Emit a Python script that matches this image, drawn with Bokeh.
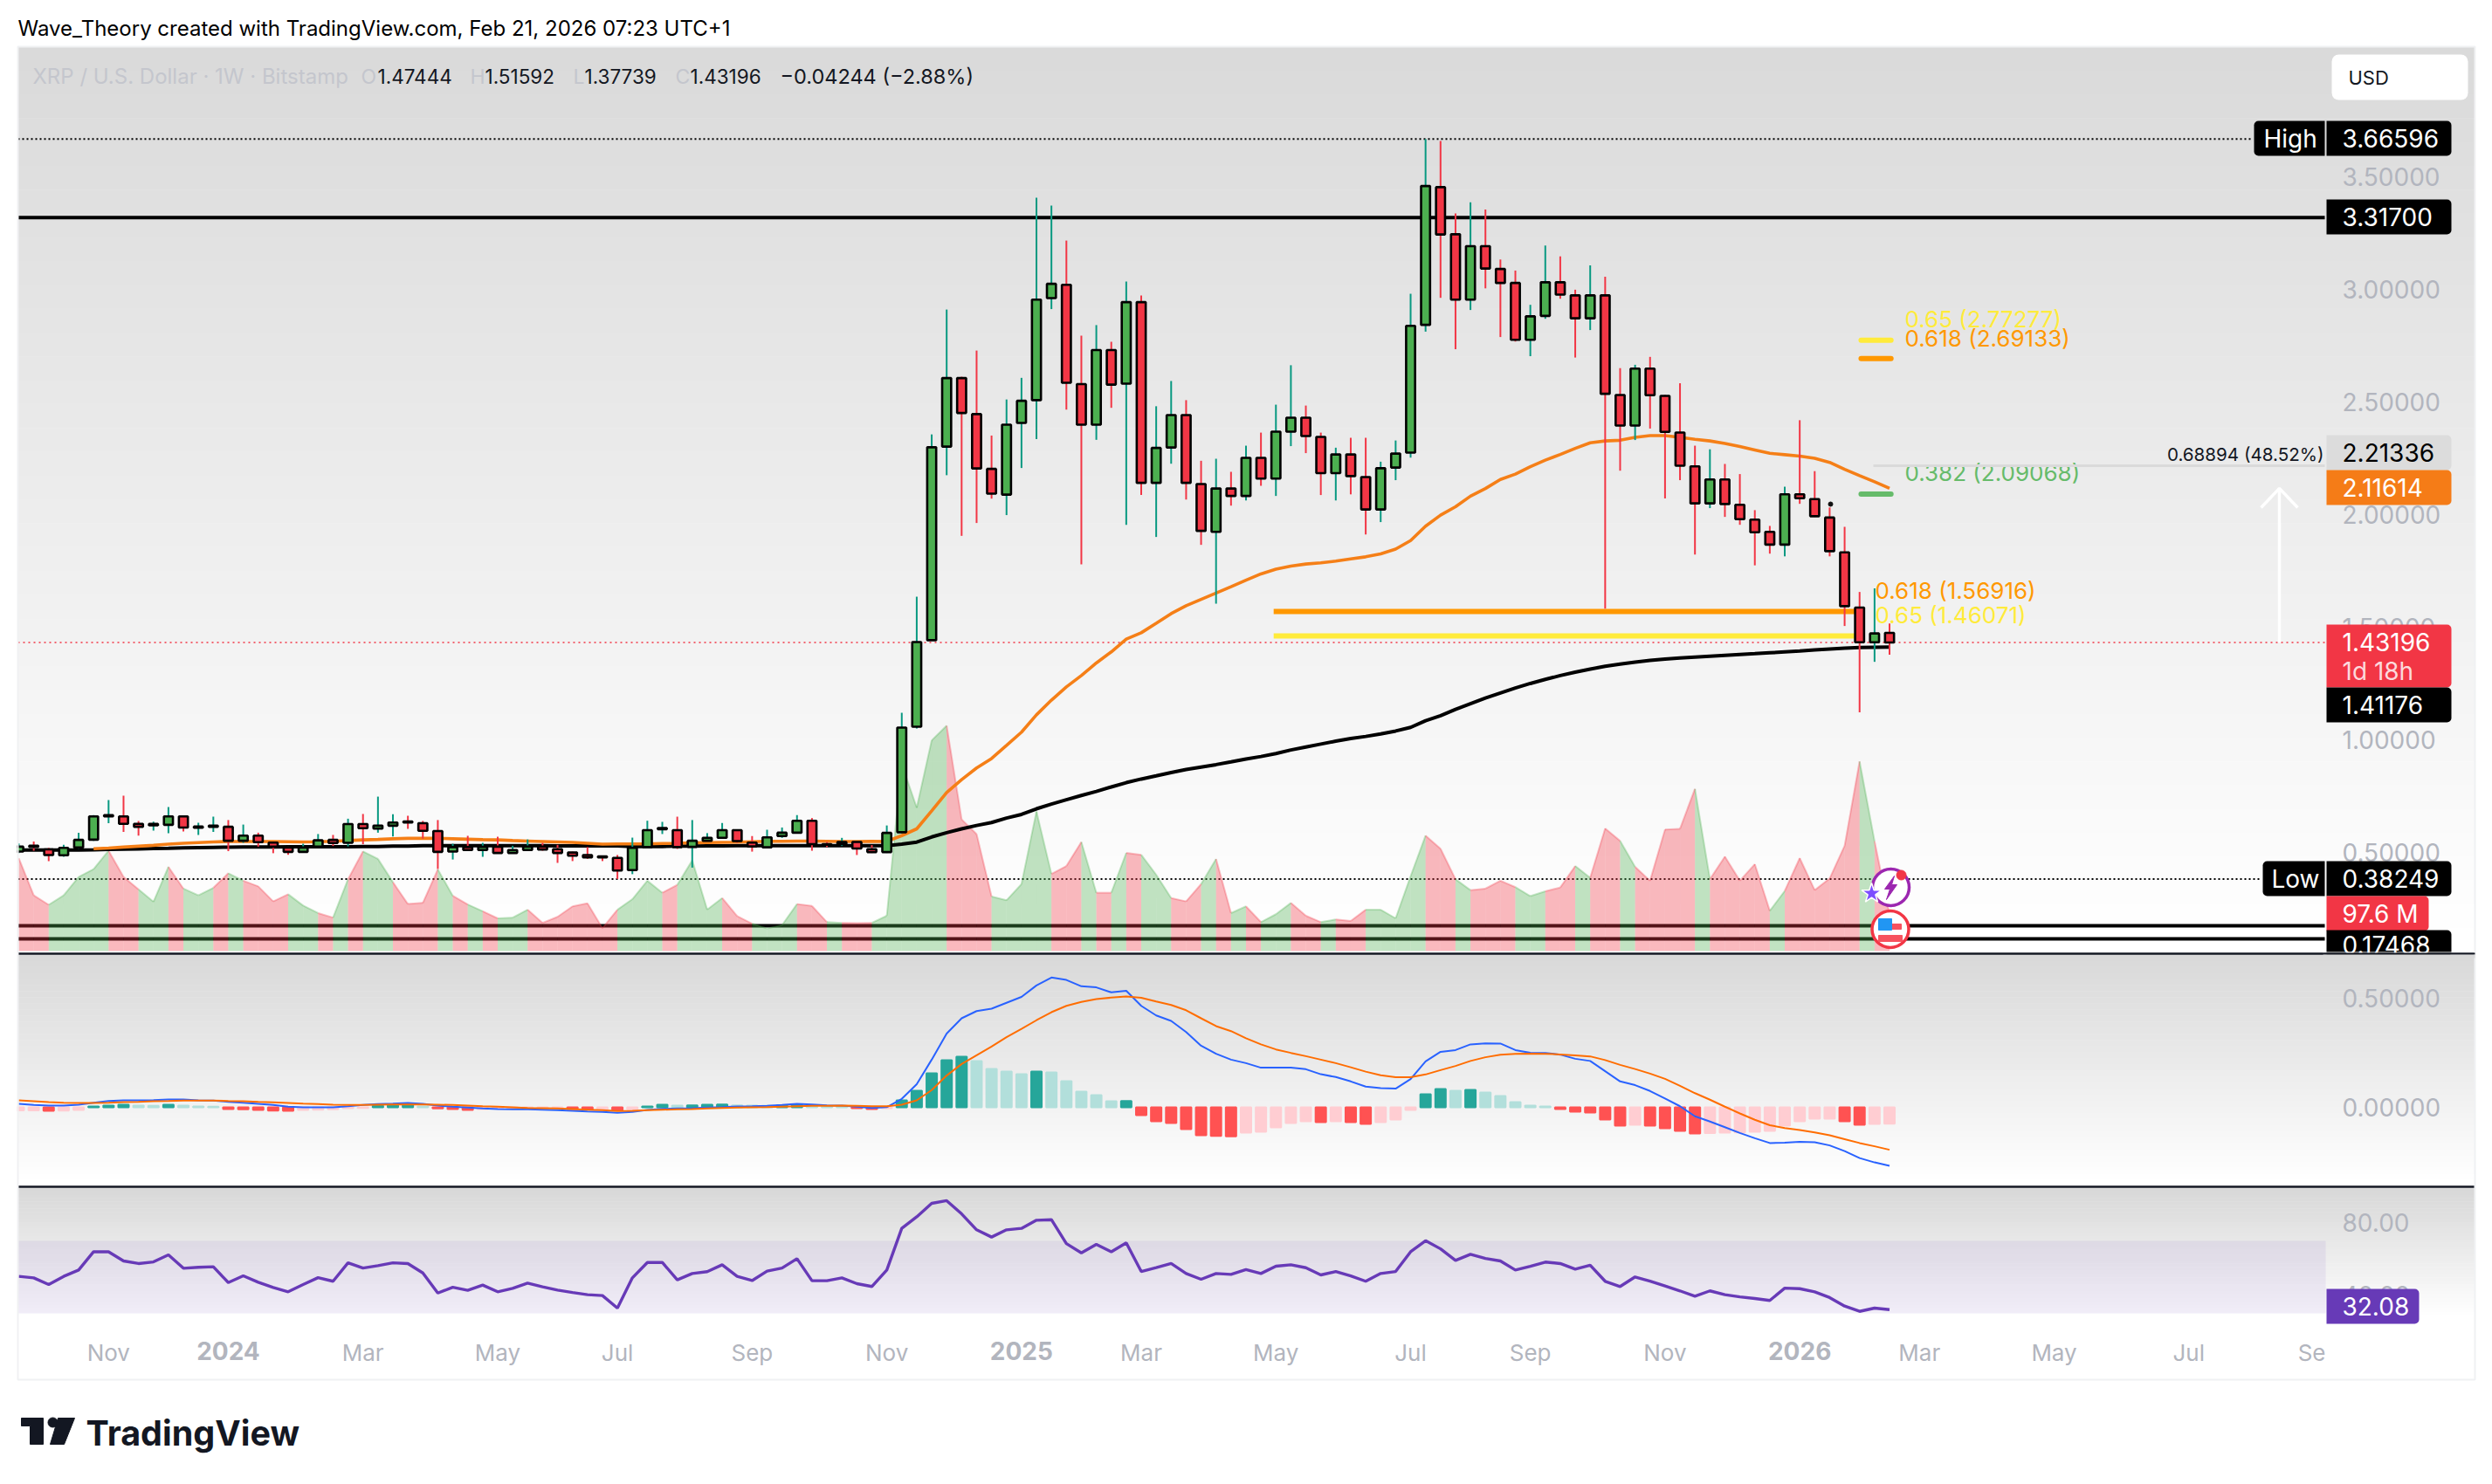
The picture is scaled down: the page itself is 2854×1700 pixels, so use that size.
from bokeh.embed import file_html
from bokeh.resources import INLINE
from bokeh.plotting import figure, ColumnDataSource
from bokeh.models import (Range1d, LinearAxis, FixedTicker, PrintfTickFormatter, Label,
                          BoxAnnotation)

OPEN = [.504,.530,.514,.488,.522,.557,.660,.660,.627,.621,.623,.660,.610,.614,.614,.552,.575,.544,.522,.503,
        .526,.556,.543,.626,.606,.619,.638,.630,.595,.504,.524,.511,.526,.498,.511,.526,.515,.500,.489,.483,
        .476,.422,.524,.603,.599,.525,.552,.565,.599,.544,.523,.573,.588,.641,.537,.537,.547,.515,.502,.590,
        1.058,1.442,2.301,2.605,2.445,2.202,2.088,2.406,2.507,2.960,3.019,2.578,2.398,2.729,2.580,2.942,2.140,2.297,2.441,2.135,
        1.923,2.115,2.082,2.251,2.159,2.367,2.429,2.344,2.183,2.266,2.166,2.022,2.208,2.274,2.841,3.452,3.243,2.953,3.190,3.089,
        3.027,2.775,2.881,3.030,2.972,2.870,2.972,2.530,2.394,2.647,2.526,2.363,2.213,2.049,2.155,2.043,1.977,1.923,1.866,2.089,
        2.068,1.986,1.832,1.587,1.433,1.47444]
HIGH = [.540,.549,.521,.534,.588,.666,.733,.752,.640,.637,.702,.660,.632,.659,.644,.624,.588,.545,.526,.539,
        .582,.578,.650,.671,.748,.670,.663,.640,.644,.539,.574,.543,.570,.530,.558,.543,.534,.504,.524,.485,
        .489,.566,.641,.636,.659,.644,.586,.631,.601,.573,.601,.611,.666,.653,.547,.565,.549,.533,.620,1.12,
        1.635,2.355,2.909,2.611,2.727,2.350,2.510,2.606,3.405,3.370,3.215,2.793,2.840,2.766,3.033,2.971,2.480,2.592,2.507,2.238,
        2.247,2.189,2.305,2.363,2.487,2.662,2.483,2.363,2.296,2.340,2.340,2.234,2.328,2.979,3.66596,3.657,3.335,3.385,3.353,3.131,
        3.082,2.930,3.193,3.145,2.997,3.105,3.055,2.649,2.664,2.699,2.530,2.582,2.305,2.289,2.224,2.179,2.019,1.949,2.123,2.418,
        2.192,2.031,1.945,1.656,1.672,1.51592]
LOW = [.497,.508,.462,.481,.517,.552,.630,.591,.575,.597,.586,.593,.578,.591,.506,.543,.526,.497,.490,.500,
       .524,.529,.527,.537,.588,.571,.605,.562,.427,.469,.508,.481,.498,.495,.507,.508,.454,.462,.472,.462,
       .38249,.404,.521,.582,.516,.433,.550,.562,.543,.504,.521,.565,.586,.508,.524,.529,.489,.498,.498,.585,
       1.050,1.440,2.174,1.905,1.962,2.070,1.997,2.206,2.334,2.911,2.465,1.778,2.331,2.473,1.954,2.086,1.900,2.225,2.066,1.865,
       1.604,2.039,2.062,2.127,2.082,2.303,2.272,2.086,2.062,2.089,1.911,1.966,2.152,2.252,2.811,2.961,2.733,2.907,3.003,2.787,
       2.767,2.702,2.868,2.957,2.696,2.818,1.582,2.194,2.330,2.381,2.071,2.152,1.822,2.028,1.989,1.954,1.774,1.826,1.814,2.047,
       1.989,1.814,1.505,1.122,1.346,1.37739]
CLOSE = [.526,.525,.489,.521,.556,.660,.666,.627,.614,.627,.660,.611,.615,.619,.552,.575,.546,.526,.503,.522,
         .554,.542,.626,.608,.619,.633,.633,.596,.503,.524,.511,.525,.498,.511,.526,.513,.498,.486,.478,.478,
         .420,.521,.599,.609,.524,.552,.565,.599,.551,.527,.567,.588,.641,.537,.534,.547,.518,.502,.587,1.054,
         1.434,2.298,2.605,2.450,2.204,2.092,2.398,2.504,2.953,3.023,2.584,2.398,2.729,2.576,2.942,2.140,2.295,2.441,2.140,1.927,
         2.115,2.082,2.251,2.159,2.367,2.429,2.348,2.183,2.266,2.170,2.022,2.205,2.270,2.837,3.457,3.242,2.953,3.190,3.091,3.027,
         2.775,2.879,3.030,2.975,2.870,2.972,2.535,2.394,2.647,2.529,2.366,2.216,2.049,2.155,2.046,1.979,1.921,1.866,2.089,2.072,
         1.992,1.837,1.593,1.433,1.472,1.43196]

EMA50_FIRST_BAR = 5
EMA50 = [.517,.520,.524,.528,.532,.537,.541,.544,.547,.549,.549,.549,.549,.548,.547,.548,.550,.553,.556,.558,
         .561,.563,.563,.563,.561,.559,.557,.556,.553,.551,.549,.547,.545,.541,.537,.538,.538,.538,.540,.541,
         .543,.544,.545,.546,.548,.550,.550,.551,.551,.550,.549,.549,.550,.549,.575,.605,.685,.766,.823,.875,
         .917,.975,1.034,1.111,1.176,1.235,1.285,1.341,1.390,1.447,1.475,1.517,1.560,1.595,1.623,1.651,1.679,1.708,1.736,1.757,
         1.771,1.780,1.785,1.793,1.803,1.812,1.825,1.846,1.884,1.948,1.997,2.034,2.081,2.115,2.155,2.179,2.212,2.241,2.266,2.293,
         2.318,2.326,2.329,2.342,2.350,2.350,2.342,2.333,2.326,2.315,2.301,2.286,2.271,2.265,2.259,2.249,2.231,2.200,2.172,2.145,
         2.11614]
EMA200 = [.511,.511,.511,.511,.511,.512,.514,.515,.516,.518,.519,.521,.522,.523,.524,.525,.525,.525,.526,.526,
          .526,.526,.526,.527,.527,.528,.528,.530,.530,.530,.530,.530,.530,.530,.530,.530,.529,.529,.529,.529,
          .529,.527,.527,.527,.528,.528,.529,.529,.530,.530,.530,.530,.530,.530,.530,.530,.530,.530,.530,.537,
          .546,.569,.588,.605,.620,.633,.653,.669,.694,.715,.734,.753,.771,.791,.810,.826,.840,.855,.868,.879,
          .890,.902,.915,.926,.939,.955,.968,.981,.994,1.006,1.015,1.026,1.039,1.055,1.085,1.107,1.135,1.160,1.185,1.208,
          1.230,1.250,1.268,1.285,1.300,1.314,1.326,1.336,1.345,1.352,1.358,1.363,1.367,1.371,1.375,1.379,1.382,1.386,1.390,1.394,
          1.399,1.403,1.407,1.410,1.411,1.41176]
VOLUME_M = [247,148,123,148,197,218,267,197,164,131,224,166,148,168,207,187,172,132,151,121,
            101,89,191,265,245,183,125,128,217,147,124,106,87,89,110,75,91,119,127,61,
            110,138,187,155,176,241,110,141,93,73,60,69,125,120,77,75,74,75,94,497,
            381,560,599,350,311,145,135,178,371,205,226,290,155,155,261,256,203,141,132,178,
            245,101,119,77,98,128,94,77,84,80,110,110,87,199,307,272,191,162,166,187,
            170,146,159,169,226,195,326,293,224,187,323,325,431,191,251,187,231,107,160,247,
            162,193,280,504,292,97.6]
MACD_HIST = [-.014,-.014,-.016,-.015,-.012,.004,.008,.012,.008,.007,.012,.008,.004,.003,-.008,-.009,-.012,-.015,-.016,-.012,
             -.011,-.009,-.004,-.003,.008,.009,.012,.004,-.005,-.008,-.012,-.008,-.005,-.004,-.004,-.004,-.003,-.008,-.009,-.008,
             -.012,-.009,.004,.012,.008,.009,.012,.013,.009,.008,.007,.009,.012,.005,.004,.003,-.004,-.008,-.004,.032,
             .076,.156,.217,.233,.213,.176,.164,.152,.164,.160,.120,.072,.056,.028,.029,-.036,-.064,-.072,-.100,-.128,
             -.131,-.133,-.116,-.112,-.092,-.072,-.064,-.068,-.064,-.068,-.076,-.068,-.056,-.012,.060,.084,.076,.080,.068,.052,
             .024,.008,.004,-.008,-.020,-.024,-.056,-.084,-.080,-.084,-.096,-.108,-.120,-.118,-.116,-.115,-.112,-.108,-.084,-.064,
             -.052,-.052,-.064,-.080,-.076,-.075]
MACD_LINE = [.016,.011,.008,.008,.012,.021,.029,.032,.032,.033,.036,.036,.032,.031,.025,.021,.016,.011,.003,0,
             0,0,.005,.011,.015,.017,.020,.016,.008,.003,-.001,-.005,-.008,-.009,-.009,-.011,-.013,-.016,-.019,-.021,
             -.025,-.021,-.012,-.007,-.005,-.004,-.001,.001,.004,.005,.007,.011,.016,.013,.009,.008,.003,-.003,.001,.039,
             .106,.219,.339,.409,.442,.453,.480,.507,.560,.596,.585,.556,.551,.528,.535,.466,.422,.397,.346,.283,
             .246,.219,.203,.182,.182,.182,.175,.152,.139,.119,.095,.088,.086,.130,.211,.255,.263,.289,.294,.293,
             .263,.251,.250,.242,.223,.213,.166,.119,.102,.075,.041,.005,-.041,-.065,-.091,-.118,-.142,-.164,-.162,-.158,
             -.160,-.175,-.201,-.233,-.253,-.269]
MACD_SIGNAL = [.032,.028,.024,.021,.020,.020,.021,.024,.025,.028,.029,.031,.031,.031,.029,.028,.025,.023,.020,.017,
               .015,.012,.011,.011,.012,.013,.013,.013,.012,.011,.008,.005,.003,0,-.003,-.004,-.005,-.008,-.011,-.013,
               -.017,-.016,-.013,-.011,-.009,-.008,-.005,-.003,-.001,0,.001,.003,.005,.007,.007,.008,.007,.005,.005,.012,
               .032,.079,.146,.199,.239,.279,.322,.360,.400,.437,.466,.484,.497,.504,.509,.503,.486,.470,.446,.409,
               .373,.350,.317,.289,.266,.250,.235,.219,.203,.184,.164,.147,.138,.138,.151,.171,.190,.213,.230,.242,
               .246,.247,.246,.243,.239,.234,.217,.195,.176,.155,.131,.099,.065,.035,.003,-.028,-.057,-.082,-.095,-.104,
               -.115,-.128,-.146,-.164,-.179,-.195]
RSI = [50.4,49.6,45.9,50.4,53.9,64.0,64.0,58.9,57.5,58.4,62.3,54.9,55.4,55.7,47.0,50.7,47.2,44.3,41.9,45.9,
       49.7,47.7,57.9,55.0,56.3,57.9,57.5,52.3,41.2,44.4,42.7,45.6,41.9,43.8,46.7,44.6,42.8,41.5,40.3,39.8,
       32.9,49.6,58.1,58.1,48.5,52.0,53.0,56.8,50.4,48.1,53.3,55.0,60.2,48.0,48.0,49.6,46.4,44.8,53.9,76.9,
       83.3,90.7,92.2,84.9,76.1,72.1,76.1,76.9,81.4,81.7,68.5,63.4,68.1,64.0,68.9,53.1,55.2,57.5,52.0,48.8,
       52.0,51.5,54.2,52.0,56.0,56.8,55.2,51.2,53.1,50.7,47.7,52.0,53.1,64.0,70.1,65.6,59.2,62.6,60.3,58.9,
       53.9,56.0,58.3,57.5,54.4,56.6,47.7,44.8,50.1,47.8,45.1,42.4,39.5,42.4,40.3,39.1,38.2,37.1,43.9,43.6,
       41.9,38.7,34.0,31.1,32.9,32.08]

for arr in (OPEN, HIGH, LOW, CLOSE, EMA200, VOLUME_M, MACD_HIST, MACD_LINE, MACD_SIGNAL, RSI):
    assert len(arr) == 126, len(arr)
assert len(EMA50) == 121, len(EMA50)

PRICE_TICKS = [0.5, 1.0, 1.5, 2.0, 2.5, 3.0, 3.5]
MACD_TICKS = [0.0, 0.5]
RSI_TICKS = [40, 80]
MONTH_BARS = [6, 23, 32, 40, 49, 58, 75, 84, 93, 101, 110, 127, 136, 145]
MONTH_NAMES = ["Nov", "Mar", "May", "Jul", "Sep", "Nov", "Mar", "May", "Jul", "Sep", "Nov", "Mar", "May", "Jul"]
YEAR_BARS = [14, 67, 119]
YEAR_NAMES = ["2024", "2025", "2026"]

RESISTANCE = 3.317
ATH = 3.66596
ATL = 0.38249
LAST = 1.43196
SUPPORT_A = 0.17468
SUPPORT_B = 0.117
FIB_LOW_618 = 1.56916
FIB_LOW_65 = 1.46071
FIB_HIGH_65 = 2.77277
FIB_HIGH_618 = 2.69133
FIB_382 = 2.09068
TARGET = 2.21336

FONT = "Inter"
W, H = 2838, 1684
PAGE_L, PAGE_T = 0, 0
BAR0_PX, BAR_PX = 21.0, 17.14


def pane(ref_value, ref_y, px_per_unit):
    top = ref_value + (ref_y - PAGE_T) / px_per_unit
    bottom = ref_value - (PAGE_T + H - ref_y) / px_per_unit
    return Range1d(bottom, top)


p = figure(width=W, height=H, output_backend="svg", toolbar_location=None,
           x_axis_location=None, y_axis_location=None,
           x_range=Range1d((PAGE_L - BAR0_PX) / BAR_PX, (PAGE_L + W - BAR0_PX) / BAR_PX),
           y_range=pane(1.0, 847, 258.2),
           min_border=0, min_border_left=0, min_border_right=0, min_border_top=0, min_border_bottom=0,
           background_fill_color="white", border_fill_color="white", outline_line_color=None)
p.grid.visible = False
p.extra_x_ranges["page"] = Range1d(PAGE_L, PAGE_L + W)
p.extra_y_ranges["page"] = Range1d(PAGE_T + H, PAGE_T)
p.extra_y_ranges["vol"] = pane(0.0, 1089, 1 / 2.32)
p.extra_y_ranges["macd"] = pane(0.0, 1268, 249.4)
p.extra_y_ranges["rsi"] = pane(70.0, 1421, 2.075)
PG = dict(x_range_name="page", y_range_name="page")

LEFT, RIGHT, SCALE_L = 20, 2834, 2663


def dashed(renderer, pattern=(2, 3)):
    renderer.glyph.line_dash = list(pattern)


def gradient(y0, y1, g0=217, n=38):
    l, r, t, b, c = [], [], [], [], []
    for k in range(n):
        l.append(LEFT); r.append(RIGHT)
        t.append(y0 + (y1 - y0) * k / n); b.append(y0 + (y1 - y0) * (k + 1) / n + 0.5)
        g = int(round(g0 + (255 - g0) * k / (n - 1)))
        c.append("#%02x%02x%02x" % (g, g, g))
    p.quad(left=l, right=r, top=t, bottom=b, fill_color=c, line_color=None, **PG)


gradient(53, 1090, 218)
gradient(1093, 1358, 217)
gradient(1360, 1510, 216)
# RSI band
p.quad(left=[LEFT], right=[SCALE_L], top=[70], bottom=[30], fill_color="#7e57c2", fill_alpha=0.1, line_color=None,
       x_range_name="page", y_range_name="rsi")
p.segment(x0=[LEFT, LEFT], x1=[RIGHT, RIGHT], y0=[1092, 1359], y1=[1092, 1359], line_color="#131722", line_width=2.5, **PG)

xs_all = list(range(126))
right_bar = (SCALE_L - 1 - BAR0_PX) / BAR_PX
left_bar = (LEFT - BAR0_PX) / BAR_PX

# levels
p.segment(x0=[left_bar], x1=[right_bar], y0=[RESISTANCE], y1=[RESISTANCE], line_color="black", line_width=4)
p.segment(x0=[left_bar, left_bar], x1=[right_bar, right_bar], y0=[SUPPORT_A, SUPPORT_B], y1=[SUPPORT_A, SUPPORT_B],
          line_color="black", line_width=4)
dashed(p.segment(x0=[left_bar], x1=[(2580 - BAR0_PX) / BAR_PX], y0=[ATH], y1=[ATH], line_color="black", line_width=2))
dashed(p.segment(x0=[left_bar], x1=[(2590 - BAR0_PX) / BAR_PX], y0=[ATL], y1=[ATL], line_color="black", line_width=2))

# volume area
vx, vy, vc, lx, ly = [], [], [], [], []
for i in range(1, 126):
    vx.append([i - 1, i, i, i - 1]); vy.append([VOLUME_M[i - 1], VOLUME_M[i], 0, 0])
    vc.append("#f23645" if CLOSE[i] < OPEN[i] else "#4caf50")
    lx.append([i - 1, i]); ly.append([VOLUME_M[i - 1], VOLUME_M[i]])
vsrc = ColumnDataSource(dict(xs=vx, ys=vy, c=vc, lx=lx, ly=ly))
p.patches("xs", "ys", source=vsrc, fill_color="c", fill_alpha=0.35, line_color=None, y_range_name="vol")
p.multi_line("lx", "ly", source=vsrc, line_color="c", line_alpha=0.3, line_width=2, y_range_name="vol")

# last price line (dotted)
dashed(p.segment(x0=[left_bar], x1=[right_bar], y0=[LAST], y1=[LAST], line_color="#f23645", line_width=1.6), (2, 4))

# fib zones
p.segment(x0=[83.85], x1=[123], y0=[FIB_LOW_618], y1=[FIB_LOW_618], line_color="#ff9800", line_width=6)
p.segment(x0=[83.85], x1=[123], y0=[FIB_LOW_65], y1=[FIB_LOW_65], line_color="#ffeb3b", line_width=6)
p.segment(x0=[123.1], x1=[125.1], y0=[FIB_HIGH_65], y1=[FIB_HIGH_65], line_color="#ffeb3b", line_width=6, line_cap="round")
p.segment(x0=[123.1], x1=[125.1], y0=[FIB_HIGH_618], y1=[FIB_HIGH_618], line_color="#ff9800", line_width=6, line_cap="round")
p.segment(x0=[123.1], x1=[125.1], y0=[FIB_382], y1=[FIB_382], line_color="#66bb6a", line_width=6, line_cap="round")

# moving averages
p.line(xs_all, EMA200, line_color="black", line_width=4)
p.line(list(range(EMA50_FIRST_BAR, 126)), EMA50, line_color="#f57f17", line_width=3.6)

# candles
UP = [c >= o for o, c in zip(OPEN, CLOSE)]
wick_c = ["#089981" if u else "#f23645" for u in UP]
body_c = ["#4caf50" if u else "#f23645" for u in UP]
p.segment(x0=xs_all, x1=xs_all, y0=LOW, y1=HIGH, line_color=wick_c, line_width=2)
p.vbar(x=xs_all, width=0.6, top=[max(o, c) for o, c in zip(OPEN, CLOSE)], bottom=[min(o, c) for o, c in zip(OPEN, CLOSE)],
       fill_color=body_c, line_color="black", line_width=2.6)
# dot above the wick
p.scatter([2096], [577], size=5, color="#111111", **PG)

# measure
p.segment(x0=[151.05], x1=[151.05], y0=[LAST], y1=[2.113], line_color="white", line_width=3.5)
p.line([2589, 2610, 2631], [581, 559, 581], line_color="white", line_width=3.5, **PG)

# MACD
hist_c = []
for i, h in enumerate(MACD_HIST):
    prev = MACD_HIST[i - 1] if i else h
    if h >= 0:
        hist_c.append("#26a69a" if h >= prev else "#b2dfdb")
    else:
        hist_c.append("#ff5252" if h < prev else "#ffcdd2")
p.vbar(x=xs_all, width=0.7, top=MACD_HIST, bottom=0, fill_color=hist_c, line_color=hist_c, line_width=2, y_range_name="macd")
p.line(xs_all, MACD_LINE, line_color="#2962ff", line_width=2, y_range_name="macd")
p.line(xs_all, MACD_SIGNAL, line_color="#ff6d00", line_width=2, y_range_name="macd")

# RSI
p.line(xs_all, RSI, line_color="#673ab7", line_width=3.4, y_range_name="rsi")

# panes clip what reaches past their left edge
p.quad(left=[0], right=[LEFT - 1], top=[53], bottom=[1580], fill_color="white", line_color=None, **PG)
# frame
p.quad(left=[LEFT], right=[RIGHT], top=[53], bottom=[1580], fill_color=None, line_color="#f0f1f3", line_width=2, **PG)


# value axes drawn inside the frame
def y_axis(ticks, fmt, rng=None):
    kw = dict(y_range_name=rng) if rng else {}
    ax = LinearAxis(ticker=FixedTicker(ticks=ticks), formatter=PrintfTickFormatter(format=fmt),
                    fixed_location=(2682 - BAR0_PX) / BAR_PX, axis_line_color=None,
                    major_tick_line_color=None, minor_tick_line_color=None, major_tick_out=0, major_tick_in=0,
                    major_label_standoff=0, major_label_text_color="#b2b5be", major_label_text_font=FONT,
                    major_label_text_font_size="28px", **kw)
    p.add_layout(ax, "right")


y_axis(PRICE_TICKS, "%.5f")
y_axis(MACD_TICKS, "%.5f", "macd")
y_axis(RSI_TICKS, "%.2f", "rsi")


def x_axis(ticks, names, style, size, y_px):
    ax = LinearAxis(ticker=FixedTicker(ticks=ticks), major_label_overrides=dict(zip(ticks, names)),
                    fixed_location=1 + (847 - y_px) / 258.2, axis_line_color=None,
                    major_tick_line_color=None, minor_tick_line_color=None, major_tick_out=0, major_tick_in=0,
                    major_label_standoff=0, major_label_text_color="#b2b5be", major_label_text_font=FONT,
                    major_label_text_font_size=size, major_label_text_font_style=style)
    p.add_layout(ax, "below")


x_axis(MONTH_BARS, MONTH_NAMES, "normal", "26px", 1533)
x_axis(YEAR_BARS, YEAR_NAMES, "bold", "28px", 1536)


def text(x, y, s, color="black", size=28, align="left", style="normal", font=FONT, level="annotation"):
    p.add_layout(Label(x=x, y=y, text=s, text_color=color, text_font=font, text_font_size=f"{size}px",
                       text_align=align, text_baseline="middle", text_font_style=style, level=level, **PG))


def box(l, r, t, b, color, radius=(0, 5, 5, 0), level="annotation"):
    p.add_layout(BoxAnnotation(left=l, right=r, top=t, bottom=b, fill_color=color, fill_alpha=1, line_color=None,
                               line_alpha=0, border_radius=radius, level=level, **PG))


def tag(t, b, s, color="black", tcolor="white", r=2807):
    box(2664, r, t, b, color)
    text(2682, (t + b) / 2, s, tcolor)


box(2581, 2662, 138, 178, "black", (5, 0, 0, 5))
text(2592, 158, "High", "white")
tag(138, 178, "3.66596")
tag(228, 268, "3.31700")
tag(498, 538, "2.21336", "#dcdcdc", "black")
tag(538, 578, "2.11614", "#f57c17")
box(2664, 2807, 715, 787, "#f23645")
text(2682, 735, "1.43196", "white")
text(2682, 768, "1d 18h", "#fcd9dc")
tag(787, 827, "1.41176")
box(2591, 2662, 986, 1026, "black", (5, 0, 0, 5))
text(2601, 1006, "Low", "white")
tag(986, 1026, "0.38249")
tag(1026, 1066, "97.6 M", "#f23645", r=2781)
box(2664, 2807, 1065, 1095, "black")
text(2682, 1082, "0.17468", "white")
tag(1476, 1516, "32.08", "#673ab7", r=2770)
# cover for clipped tag bottom
box(2660, 2834, 1090, 1091, "#ffffff", (0, 0, 0, 0), "overlay")
box(2660, 2834, 1091, 1093, "#131722", (0, 0, 0, 0), "overlay")
box(2660, 2834, 1093, 1097, "#d9d9d9", (0, 0, 0, 0), "overlay")

# USD button
box(2670, 2826, 62, 114, "white", (8, 8, 8, 8))
text(2689, 88, "USD", "#131722", 22)

# fib labels
text(2181, 365, "0.65 (2.77277)", "#ffeb3b", 26)
text(2181, 387, "0.618 (2.69133)", "#ff9800", 26)
text(2181, 541, "0.382 (2.09068)", "#66bb6a", 26)
text(2147, 676, "0.618 (1.56916)", "#ff9800", 26)
text(2147, 704, "0.65 (1.46071)", "#ffeb3b", 26)
text(2661, 520, "0.68894 (48.52%)", "#131722", 20.6, "right")
box(2145, 2662, 531.5, 534.5, "#dadada", (0, 0, 0, 0))

# header
text(20, 32, "Wave_Theory created with TradingView.com, Feb 21, 2026 07:23 UTC+1", "black", 24)
text(37, 87, "XRP / U.S. Dollar · 1W · Bitstamp", "#c4c6cd", 24)
for x, s in [(413, "O"), (538, "H"), (656, "L"), (773, "C")]:
    text(x, 87, s, "#c4c6cd", 23)
for x, s in [(432, "1.47444"), (555, "1.51592"), (669, "1.37739"), (790, "1.43196")]:
    text(x, 87, s, "#131722", 22.5)
text(893, 87, "−0.04244 (−2.88%)", "#131722", 23.5)

# clipped next date label
text(2663, 1549, "Se", "#b2b5be", 26, "right")

# logo
p.patch([24, 49, 49, 34, 34, 24], [1624, 1624, 1654, 1654, 1633, 1633], color="#131722", **PG)
p.scatter([60], [1629], size=11, color="#131722", **PG)
p.patch([66, 85, 73, 57], [1624, 1624, 1654, 1654], color="#131722", **PG)
text(98, 1641, "TradingView", "#131722", 39.5, style="bold", font="Inter")

# event icons
p.scatter([2165], [1016], size=42, fill_color="white", line_color="#9c27b0", line_width=3.5, **PG)
p.patch([2169, 2158, 2164, 2160, 2172, 2166], [1003, 1018, 1018, 1030, 1013, 1013], color="#9c27b0", **PG)
p.scatter([2143], [1023], marker="star", size=24, fill_color="#7c4dff", line_color="white", line_width=1.5, **PG)
p.scatter([2177], [1002], size=11, color="#f23645", **PG)
p.scatter([2164.5], [1064], size=42, fill_color="white", line_color="#f23645", line_width=3.5, **PG)
p.quad(left=[2166, 2151], right=[2177, 2178], top=[1058, 1071], bottom=[1064, 1078], color="#f7525f", **PG)
p.quad(left=[2151], right=[2166], top=[1052], bottom=[1065], color="#2196f3", **PG)

open("out.html", "w").write(file_html(p, INLINE))
